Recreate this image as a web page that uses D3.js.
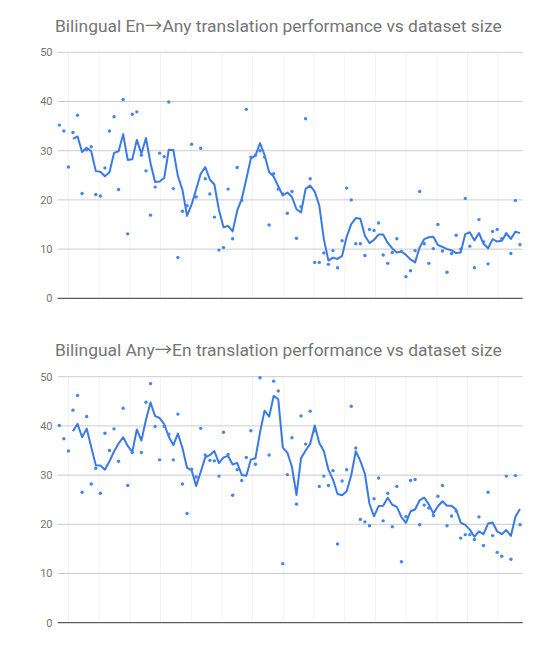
<!DOCTYPE html>
<html>
<head>
<meta charset="utf-8">
<script src="https://cdn.jsdelivr.net/npm/d3@7"></script>
<style>
  body { margin: 0; background: #fff; }
  svg { display: block; font-family: Roboto, "Noto Sans", Arial, sans-serif; }
</style>
</head>
<body>
<div id="chart"></div>
<script>
// scores per language pair, ordered by dataset size (largest first)
var enToAny = [
  35.2, 34.0, 26.7, 33.7, 37.2, 21.3, 30.2, 30.8, 21.1, 20.8,
  26.5, 34.0, 36.9, 22.1, 40.4, 13.1, 37.4, 37.9, 29.1, 25.9,
  16.9, 22.6, 29.5, 28.8, 39.9, 22.3, 8.3, 17.7, 18.8, 31.3,
  20.6, 30.5, 24.3, 21.2, 16.5, 9.8, 10.3, 22.2, 12.1, 26.6,
  19.9, 38.4, 28.7, 29.1, 30.0, 28.7, 14.9, 25.3, 22.2, 21.2,
  17.3, 21.7, 12.2, 18.6, 36.5, 24.3, 7.3, 7.3, 9.2, 6.9,
  9.7, 6.2, 11.7, 22.4, 20.0, 11.1, 11.1, 8.7, 14.0, 13.8,
  15.3, 8.8, 7.1, 9.3, 12.1, 9.5, 4.4, 5.6, 9.7, 21.7,
  11.1, 7.1, 10.1, 15.0, 9.6, 5.3, 9.1, 12.8, 10.0, 20.3,
  10.6, 6.2, 16.0, 11.5, 7.0, 13.6, 14.0, 12.1, 13.1, 9.1,
  19.9, 10.9
];

var anyToEn = [
  40.1, 37.4, 34.9, 43.2, 46.2, 26.5, 41.9, 28.2, 31.4, 26.3,
  38.5, 35.0, 39.4, 32.8, 43.6, 27.9, 34.6, 51.0, 34.6, 44.8,
  48.6, 39.9, 33.1, 39.9, 38.3, 33.1, 42.4, 28.2, 22.2, 31.2,
  29.6, 39.5, 34.1, 33.0, 32.9, 29.8, 38.7, 34.2, 25.9, 31.1,
  28.9, 33.6, 39.0, 32.2, 49.8, 51.4, 34.1, 49.1, 47.1, 12.0,
  30.1, 37.6, 24.1, 42.0, 36.3, 43.0, 39.0, 27.7, 29.8, 27.9,
  30.9, 16.0, 28.8, 31.1, 44.0, 35.5, 21.0, 20.5, 19.7, 25.2,
  29.4, 20.7, 26.3, 19.5, 27.7, 12.4, 21.6, 28.9, 29.1, 19.9,
  23.9, 23.3, 21.8, 25.7, 27.9, 19.7, 21.7, 22.7, 17.2, 17.9,
  17.9, 16.9, 21.5, 15.7, 26.5, 17.7, 14.3, 13.5, 29.8, 12.9,
  29.9, 19.9
];

// title pieces: [before arrow, after arrow]
var titles = [
  ["Bilingual En", "Any translation performance vs dataset size"],
  ["Bilingual Any", "En translation performance vs dataset size"]
];
var yTicks = [0, 10, 20, 30, 40, 50];
var trendPeriod = 4;

var width = 552, height = 649;
var plotLeft = 57.7, plotRight = 522.7;
var plotH = 246;
var panelTops = [52.3, 376.7];

var svg = d3.select("#chart").append("svg")
  .attr("width", width)
  .attr("height", height);

svg.append("rect").attr("width", width).attr("height", height).attr("fill", "#fff");

function movingAverage(values, period) {
  return d3.range(period - 1, values.length).map(function (i) {
    return { i: i, v: d3.mean(values.slice(i - period + 1, i + 1)) };
  });
}

function drawPanel(values, title, top) {
  var n = values.length;
  var x = d3.scaleLinear().domain([0, n - 1]).range([59.3, 520]);
  var y = d3.scaleLinear().domain([0, 50]).range([top + plotH, top]);
  var g = svg.append("g");

  // faint vertical grid
  var vStep = 6.73;
  var vLines = d3.range(2, n, vStep);
  g.selectAll(".vgrid").data(vLines).enter().append("line")
    .attr("x1", function (d) { return x(d); })
    .attr("x2", function (d) { return x(d); })
    .attr("y1", top).attr("y2", top + plotH)
    .attr("stroke", "#f4f4f4").attr("stroke-width", 1);

  g.selectAll(".hgrid").data(yTicks).enter().append("line")
    .attr("x1", plotLeft).attr("x2", plotRight)
    .attr("y1", function (d) { return y(d); })
    .attr("y2", function (d) { return y(d); })
    .attr("stroke", function (d) { return d === 0 ? "#333" : "#ccc"; })
    .attr("stroke-width", 1);

  g.selectAll(".tick").data(yTicks).enter().append("text")
    .attr("x", 52.5)
    .attr("y", function (d) { return y(d); })
    .attr("dy", "0.35em")
    .attr("text-anchor", "end")
    .attr("font-size", 11)
    .attr("fill", "#757575")
    .text(function (d) { return d; });

  var t = g.append("text")
    .attr("x", 55)
    .attr("y", top - 20.5)
    .attr("font-size", 17.4)
    .attr("fill", "#757575");
  t.append("tspan").text(title[0]);
  t.append("tspan").style("font-family", "'Noto Sans CJK JP', 'DejaVu Sans', sans-serif").text("\u2192");
  t.append("tspan").text(title[1]);

  var trend = movingAverage(values, trendPeriod);
  var line = d3.line()
    .x(function (d) { return x(d.i); })
    .y(function (d) { return y(d.v); });
  g.append("path")
    .datum(trend)
    .attr("d", line)
    .attr("fill", "none")
    .attr("stroke", "#3b7ae3")
    .attr("stroke-width", 2)
    .attr("stroke-linejoin", "round");

  // points above the axis max fall outside the view window
  var pts = values.map(function (v, i) { return { i: i, v: v }; })
    .filter(function (d) { return d.v <= 50; });
  g.selectAll(".dot").data(pts).enter().append("circle")
    .attr("cx", function (d) { return x(d.i); })
    .attr("cy", function (d) { return y(d.v); })
    .attr("r", 1.7)
    .attr("fill", "#4285f4");
}

drawPanel(enToAny, titles[0], panelTops[0]);
drawPanel(anyToEn, titles[1], panelTops[1]);
</script>
</body>
</html>
